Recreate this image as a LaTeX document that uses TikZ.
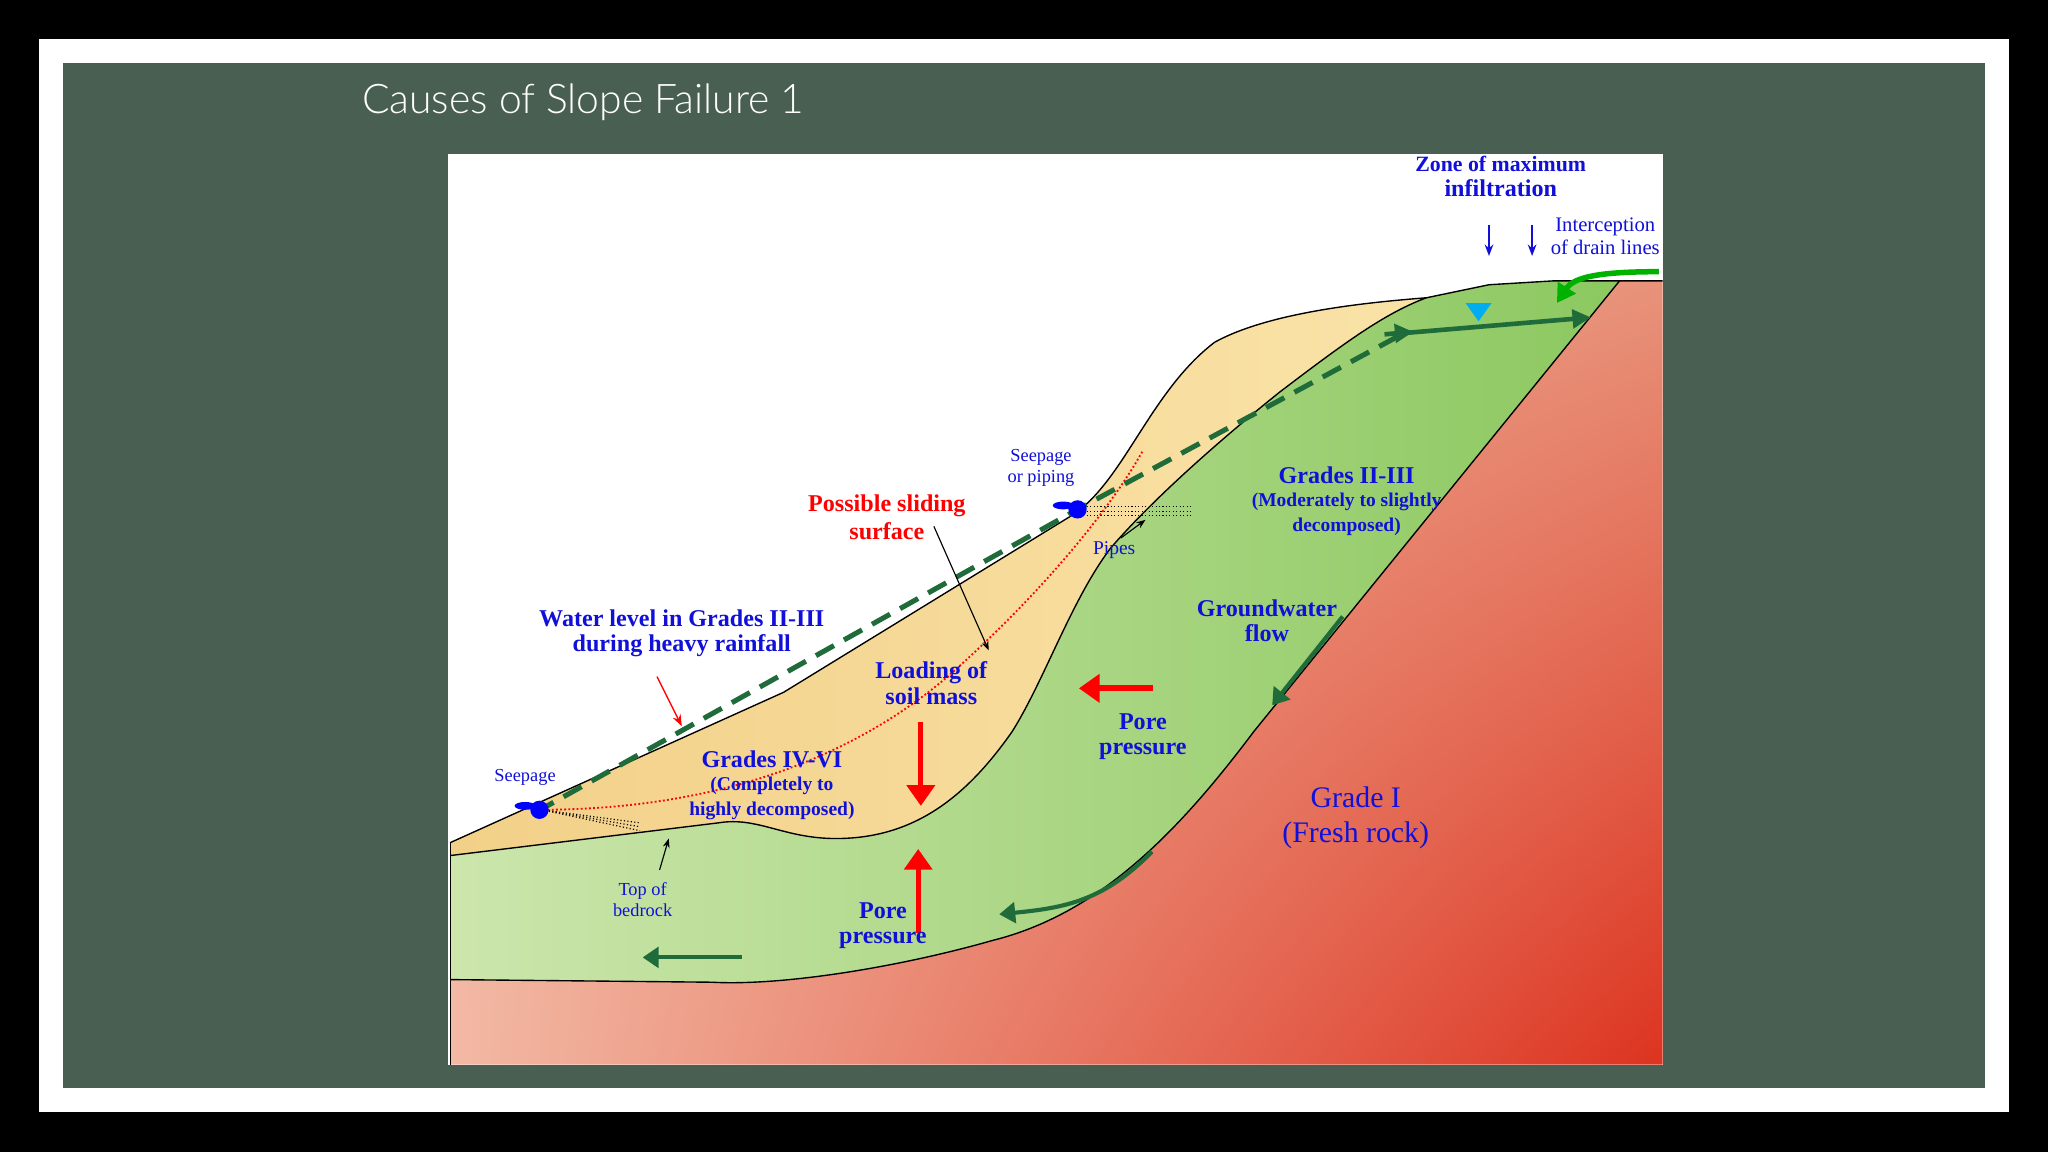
\documentclass[tikz,border=0pt]{standalone}
\usepackage{fontspec}
\setmainfont{Liberation Serif}
\newfontfamily\titlefont{Lato Light}
\usetikzlibrary{arrows.meta,shadings}
\definecolor{panel}{HTML}{485F51}
\definecolor{dg}{HTML}{1F6B3A}
\definecolor{tb}{HTML}{1010D8}
\definecolor{gl}{HTML}{CCE6AC}
\definecolor{gr}{HTML}{8CC860}
\definecolor{yl}{HTML}{F2D088}
\definecolor{yr}{HTML}{FAE3A8}
\definecolor{rpink}{HTML}{F2B9A4}
\definecolor{rsal}{HTML}{E8927A}
\definecolor{rred}{HTML}{DC3420}
\tikzset{
 lbl/.style={text=tb,font=\bfseries\fontsize{10.5}{11}\selectfont,align=center},
 sml/.style={text=tb,font=\fontsize{8}{9}\selectfont,align=center},
 redarr/.style={red,line width=2.2pt,-{Triangle[length=9pt,width=12pt]}},
 grarr/.style={dg,line width=1.8pt,-{Triangle[length=7pt,width=9pt]}},
 ptr/.style={black,line width=0.5pt,-{Stealth[length=4pt]}}
}
\begin{document}
\begin{tikzpicture}[x=0.02cm,y=-0.02cm]
\useasboundingbox (0,0) rectangle (1568,882);
\fill[black] (0,0) rectangle (1568,882);
\fill[white] (30,30) rectangle (1538,851);
\fill[panel] (48,48) rectangle (1520,833);
\node[anchor=west,text=white,font=\titlefont\fontsize{17.8}{19}\selectfont] (title) at (271,78) {Causes of Slope Failure 1};
\fill[white] (343,118) rectangle (1273,815);
% red bedrock
\shade[upper left=rpink, lower left=rpink, upper right=rsal, lower right=rred]
 (345,750) -- (545,752) .. controls (600,755) and (690,740) .. (760,720)
 .. controls (840,700) and (900,640) .. (960,560) -- (1240,215) -- (1273,215) -- (1273,815) -- (345,815) -- cycle;
% green
\shade[left color=gl, right color=gr]
 (345,655) -- (550,630) .. controls (580,625) and (600,642) .. (640,642)
 .. controls (700,642) and (740,610) .. (775,560)
 .. controls (800,520) and (820,460) .. (850,420)
 .. controls (880,385) and (930,340) .. (980,300)
 .. controls (1030,262) and (1060,240) .. (1092,228) -- (1140,218) -- (1190,215) -- (1240,215)
 -- (960,560) .. controls (900,640) and (840,700) .. (760,720)
 .. controls (690,740) and (600,755) .. (545,752) -- (345,750) -- cycle;
\draw[black,line width=0.6pt] (345,750) -- (545,752) .. controls (600,755) and (690,740) .. (760,720)
 .. controls (840,700) and (900,640) .. (960,560) -- (1240,215);
% yellow soil
\shade[left color=yl, right color=yr]
 (345,645) -- (600,530) -- (820,395)
 .. controls (860,370) and (880,300) .. (930,262)
 .. controls (970,240) and (1040,232) .. (1092,228)
 .. controls (1060,240) and (1030,262) .. (980,300)
 .. controls (930,340) and (880,385) .. (850,420)
 .. controls (820,460) and (800,520) .. (775,560)
 .. controls (740,610) and (700,642) .. (640,642)
 .. controls (600,642) and (580,625) .. (550,630) -- (345,655) -- cycle;
\draw[black,line width=0.6pt] (345,655) -- (550,630) .. controls (580,625) and (600,642) .. (640,642)
 .. controls (700,642) and (740,610) .. (775,560)
 .. controls (800,520) and (820,460) .. (850,420)
 .. controls (880,385) and (930,340) .. (980,300)
 .. controls (1030,262) and (1060,240) .. (1092,228);
\draw[black,line width=0.6pt] (345,645) -- (600,530) -- (820,395)
 .. controls (860,370) and (880,300) .. (930,262)
 .. controls (970,240) and (1040,232) .. (1092,228) -- (1140,218) -- (1190,215) -- (1273,215);
\draw[black,line width=0.6pt] (345,645) -- (345,815);
% sliding surface
\draw[red,densely dotted,line width=0.8pt] (413,620) .. controls (530,620) and (650,590) .. (740,505)
 .. controls (800,450) and (850,390) .. (875,345);
% pipes
\foreach \d in {0,6,12}{\draw[black,densely dotted,line width=0.5pt] (415,620) -- (490,630+\d/2);}
\foreach \d in {0,7,14}{\draw[black,densely dotted,line width=0.5pt] (832,388+\d/2) -- (912,388+\d/2);}
% water table
\draw[dg,dashed,line width=2.2pt,dash pattern=on 9pt off 5pt] (410,622) -- (825,390) -- (1075,255);
\coordinate (wt) at (1075,255);
\coordinate (wr) at (1218,243);
\draw[dg,line width=2pt,-{Triangle[length=8pt,width=8pt]}] (1060,256) -- (1082,254);
\draw[dg,line width=2pt,-{Triangle[length=8pt,width=8pt]}] (wt) -- (wr);
\draw[green!70!black,line width=2.4pt,-{Triangle[length=8pt,width=9pt]}] (1270,208) .. controls (1225,208) and (1205,212) .. (1192,232);
\fill[cyan] (1122,232) -- (1142,232) -- (1132,246) -- cycle;
% blobs
\fill[blue] (413,620) circle (7);
\fill[blue] (402,617) ellipse (8 and 3);
\fill[blue] (825,390) circle (7);
\fill[blue] (814,387) ellipse (8 and 3);
% infiltration arrows
\draw[tb,line width=1pt,-{Stealth[length=5pt]}] (1140,172) -- (1140,196);
\draw[tb,line width=1pt,-{Stealth[length=5pt]}] (1173,172) -- (1173,196);
% arrows
\draw[redarr] (705,553) -- (705,617);
\draw[redarr] (703,714) -- (703,650);
\draw[red,line width=2.6pt,-{Triangle[length=9pt,width=12pt]}] (883,527) -- (826,527);
\draw[grarr] (1028,472) -- (974,540);
\draw[grarr] (882,652) .. controls (845,690) and (815,695) .. (765,700);
\draw[grarr] (568,733) -- (492,733);
% labels
\node[lbl] (zone) at (1149,135) {\fontsize{9.5}{11}\selectfont Zone of maximum\\infiltration};
\node[sml,font=\fontsize{9}{10}\selectfont] (icp) at (1229,181) {Interception\\of drain lines};
\node[sml] (sp2) at (797,358) {Seepage\\or piping};
\node[sml] (sp1) at (402,595) {Seepage};
\node[text=red,font=\bfseries\fontsize{10.5}{12}\selectfont,align=center] (pss) at (679,396) {Possible sliding\\surface};
\draw[ptr] (715,403) -- (757,498);
\node[sml,font=\fontsize{8.5}{9}\selectfont] (pipes) at (853,421) {Pipes};
\draw[ptr] (858,412) -- (877,398);
\node[lbl] (g23) at (1031,384) {Grades II-III\\[-1pt]\fontsize{8.5}{10}\selectfont (Moderately to slightly\\\fontsize{8.5}{10}\selectfont decomposed)};
\node[lbl] (gwf) at (970,475) {Groundwater\\flow};
\node[lbl] (wl) at (522,485) {Water level in Grades II-III\\during heavy rainfall};
\draw[red,line width=0.6pt,-{Stealth[length=5pt]}] (503,518) -- (522,556);
\node[lbl] (load) at (713,523) {Loading of\\soil mass};
\node[lbl] (pp1) at (875,564) {Pore\\pressure};
\node[lbl] (pp2) at (676,709) {Pore\\pressure};
\node[lbl] (g46) at (591,601) {Grades IV-VI\\[-1pt]\fontsize{8.5}{10}\selectfont (Completely to\\\fontsize{8.5}{10}\selectfont highly decomposed)};
\node[sml] (tob) at (492,689) {Top of\\bedrock};
\draw[ptr] (505,666) -- (512,642);
\node[text=tb,font=\fontsize{13}{15}\selectfont,align=center] (g1) at (1038,626) {Grade I\\(Fresh rock)};
\end{tikzpicture}
\end{document}
